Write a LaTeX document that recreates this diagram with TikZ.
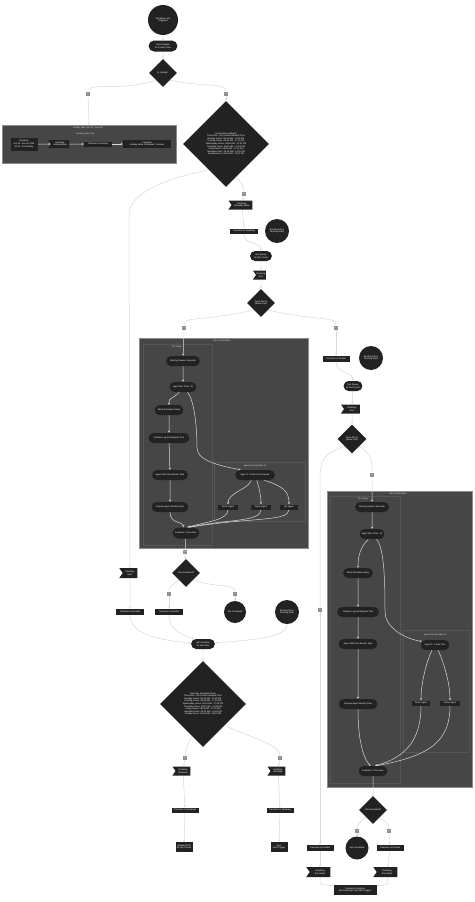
\documentclass[tikz,border=0pt]{standalone}
\usepackage{fontspec}
\setmainfont{Liberation Sans}
\usetikzlibrary{shapes.geometric,shapes.misc,shapes.symbols,arrows.meta,calc}
\definecolor{nodebg}{HTML}{222222}
\definecolor{sgbg}{HTML}{464646}
\definecolor{sgline}{HTML}{8C8C8C}
\definecolor{sgin}{HTML}{555555}
\definecolor{edgec}{HTML}{D8D8D8}
\definecolor{lblc}{HTML}{8F8F8F}
\newcommand\tf{\fontsize{2.2}{2.6}\selectfont}
\newcommand\lf{\fontsize{1.3}{1.5}\selectfont}
\pgfdeclarelayer{bg}
\pgfdeclarelayer{edges}
\pgfsetlayers{bg,edges,main}
\tikzset{
  nd/.style={fill=nodebg, text=white, inner sep=0.6pt, font=\tf, align=center},
  circ/.style={nd, circle, minimum size=#1}, circ/.default=24,
  stad/.style={nd, rounded rectangle, minimum height=10, minimum width=#1}, stad/.default=30,
  boxn/.style={nd, rectangle, minimum height=6, minimum width=#1}, boxn/.default=28,
  flagn/.style={nd, signal, signal from=west, signal to=nowhere, signal pointer angle=110, minimum height=9, minimum width=#1}, flagn/.default=20,
  dia/.style={nd, diamond, aspect=1, minimum width=#1, minimum height=#1, inner sep=0pt}, dia/.default=28,
  lbl/.style={fill=lblc, minimum size=4.4, inner sep=0pt, text=white, font=\lf},
  sg/.style={fill=sgbg, draw=sgline, line width=0.4pt, inner sep=0pt},
  sgi/.style={draw=sgin, line width=0.3pt},
  sgt/.style={text=white!85!black, font=\tf, inner sep=0pt},
  ln/.style={draw=edgec, line width=0.5pt},
  ed/.style={ln, -{Stealth[length=2.2pt,width=2pt]}}
}
\begin{document}
\begin{tikzpicture}[x=1pt,y=-1pt]
\useasboundingbox (0,0) rectangle (474,902);

% ---------- subgraph frames ----------
\begin{pgfonlayer}{bg}
\fill[white] (0,0) rectangle (474,902);
\node[sg, minimum width=174, minimum height=38] (SA) at (89,144) {};
\node[sg, minimum width=169, minimum height=210] (LA) at (223.5,443) {};
\node[sg, minimum width=145, minimum height=296] (RB) at (399.5,639) {};
\draw[sgi] (143,344) rectangle (212,545);
\draw[sgi] (214,462) rectangle (305,521);
\draw[sgi] (330,496) rectangle (400,783);
\draw[sgi] (403,630) rectangle (469,752);
\end{pgfonlayer}

\node[sgt] (tSA1) at (88,128) {Holiday Sale (25 Oct - Nov 30)};
\node[sgt] (tSA2) at (85,134) {Holiday Mode Sub};
\node[sgt] (tLA) at (222,341) {Job Orchestration};
\node[sgt] (tLA2) at (177,347) {CLI Setup};
\node[sgt] (tLA3) at (255,466) {agents-fan-out (Max 3)};
\node[sgt] (tRB) at (398,494) {Job Orchestration};
\node[sgt] (tRB2) at (363,499) {CLI Setup};
\node[sgt] (tRB3) at (435,635) {agents-fan-out (Max 2)};

% ---------- top ----------
\node[circ=30] (s0) at (163,20) {Scheduler Job\\Triggered};
\node[stad=30, minimum height=11] (s1) at (163,46) {Get Schedule\\for Current Time};
\node[dia=28] (d0) at (163,73) {Is Holiday?};
\node[lbl] (l1) at (88,94) {Yes};
\node[lbl] (l2) at (226,94) {No};

% holiday subgraph
\node[boxn=27, minimum height=13] (a1) at (24,144) {Schedule:\\Oct 25 - Nov 30 2024\\00:00 - 23:59 Daily};
\node[flagn=21, minimum height=8] (a2) at (60,144) {Enabling\\Holiday Mode};
\node[boxn=28, minimum height=5] (a3) at (98,144) {Transition to Holiday};
\node[boxn=48, minimum height=8] (a4) at (147,144) {Complete\\Holiday Mode Scheduled: Proceed};

% big diamond 1
\node[dia=86] (d2) at (226,144) {};
\node[nd, fill=none] (d2t) at (d2) {Current Day of Week?\\Time Zone: US Central Standard Time\\Monday Hours: 08:00 AM - 17:00 PM\\Tuesday Hours: 08:00 AM - 17:00 PM\\Wednesday Hours: 08:00 AM - 17:00 PM\\Thursday Hours: 08:00 AM - 17:00 PM\\Friday Hours: 08:00 AM - 17:00 PM\\Saturday Hours: 09:00 AM - 13:00 PM\\Sunday Hours: 09:00 AM - 13:00 PM};

\node[lbl] (l3) at (244,194) {Yes};
\node[flagn=24] (bf) at (242,205) {Enabling\\Weekday Mode};
\node[boxn=28, minimum height=5] (bt) at (244,231) {Transition to Weekday};
\node[circ=24] (bc) at (277,231) {Existing Job in\\Running State};
\node[stad=23] (bs) at (261,256) {Get Queue\\for Run Count};
\node[flagn=13] (bf2) at (261,275) {Enabling\\Run};
\node[dia=28] (d4) at (261,303) {Open Slot in\\Queue Cap?};
\node[lbl] (l4) at (184,328) {Yes};
\node[lbl] (l5) at (336,328) {No};

% left orchestration
\node[stad=35] (b1) at (183,361) {Starting Session Recorder};
\node[stad=28] (b2) at (183,387) {Agent Run Timer: 3h};
\node[stad=30] (b3) at (169,410) {Mesh Scheduler Setup};
\node[stad=42] (b4) at (169,438) {Initialize Log and Register Tool};
\node[stad=37] (b5) at (170,475) {Agent SDK Run Monitor Task};
\node[stad=38] (b6) at (170,507) {Prepare Agent Routing Task};
\node[stad=41] (f1) at (255,475) {Agent 1..3 Task Turn Execute};
\node[boxn=20, minimum height=5] (r1) at (228,507) {Writer Agent};
\node[boxn=20, minimum height=5] (r2) at (261,507) {Tester Agent};
\node[boxn=18, minimum height=5] (r3) at (289,507) {QA Agent};
\node[stad=28, minimum height=11] (e1) at (186,533) {Evaluate: CI Success};
\node[lbl] (l14) at (185,552) {Done};

% right branch
\node[boxn=27] (c1) at (336,359) {Transition to Enable};
\node[circ=24] (c2) at (371,358) {Existing Job in\\Running State};
\node[stad=20] (c3) at (353,386) {Get Queue\\for Run Count};
\node[flagn=19] (c4) at (352,409) {Enabling\\Run};
\node[dia=29] (c5) at (352,439) {Open Slot in\\Queue Cap?};
\node[lbl] (l6) at (372,475) {Yes};
\node[lbl] (l7) at (320,610) {No};

% right orchestration
\node[stad=35] (g1) at (372,507) {Starting Session Recorder};
\node[stad=26] (g2) at (372,534) {Agent Run Timer: 2h};
\node[stad=31] (g3) at (358,573) {Mesh Scheduler Setup};
\node[stad=43] (g4) at (358,612) {Initialize Log and Register Tool};
\node[stad=40] (g5) at (358,644) {Agent SDK Run Monitor Task};
\node[stad=40] (g6) at (358,704) {Prepare Agent Routing Task};
\node[stad=30] (f2) at (435,645) {Agent 1..2 Task Turn};
\node[boxn=18, minimum height=5] (r4) at (421,703) {Writer Agent};
\node[boxn=20, minimum height=5] (r5) at (450,703) {Tester Agent};
\node[stad=30] (e2) at (373,771) {Evaluate: CI Success};

% bottom right
\node[dia=28] (h1) at (373,810) {Job Completed?};
\node[lbl] (l8) at (357,831) {Yes};
\node[lbl] (l9) at (389,831) {No};
\node[circ=23] (h2) at (357,848) {Job Completed};
\node[boxn=27] (h3) at (320,848) {Transition to Disable};
\node[boxn=27] (h4) at (390,848) {Transition to Disable};
\node[flagn=24, minimum height=10] (h5) at (320,872) {Disabling\\Run Mode};
\node[flagn=24, minimum height=10] (h6) at (387,872) {Disabling\\Run Mode};
\node[boxn=43, minimum height=10] (h7) at (355,890) {Schedule Complete\\Exit Scheduler Until Next Trigger};

% bottom left
\node[flagn=18, minimum height=10] (m1) at (130,573) {Enabling\\Next};
\node[boxn=28] (m2) at (130,612) {Transition to Disable};
\node[dia=28] (m3) at (186,573) {Job Completed?};
\node[lbl] (l10) at (169,594) {No};
\node[lbl] (l11) at (235,594) {Yes};
\node[boxn=28] (m4) at (169,612) {Transition to Enable};
\node[circ=22] (m5) at (235,612) {Job Completed};
\node[circ=24] (m6) at (287,612) {Existing Job in\\Running State};
\node[stad=25] (k1) at (203,644) {Get Schedule\\for Next Run};
\node[dia=86] (k2) at (203,704) {};
\node[nd, fill=none] (k2t) at (k2) {Next Day Schedule Check\\Time Zone: US Central Standard Time\\Monday Hours: 08:00 AM - 17:00 PM\\Tuesday Hours: 08:00 AM - 17:00 PM\\Wednesday Hours: 08:00 AM - 17:00 PM\\Thursday Hours: 08:00 AM - 17:00 PM\\Friday Hours: 08:00 AM - 17:00 PM\\Saturday Hours: 09:00 AM - 13:00 PM\\Sunday Hours: 09:00 AM - 13:00 PM};
\node[lbl] (l12) at (185,758) {Yes};
\node[lbl] (l13) at (280,758) {No};
\node[flagn=18] (n1) at (183,771) {Enabling\\Weekend};
\node[boxn=27, minimum height=5] (n2) at (185,810) {Transition to Weekend};
\node[boxn=17, minimum height=10] (n3) at (184,847) {Weekend Off\\All Day Closed};
\node[flagn=18] (n4) at (278,771) {Enabling\\Weekday};
\node[boxn=27, minimum height=5] (n5) at (280,810) {Transition to Weekday};
\node[boxn=17, minimum height=10] (n6) at (279,847) {Run\\Next Trigger};

\coordinate (bendA) at (129,215);
\coordinate (bendB) at (320,480);
\coordinate (bendC) at (197,448);
\coordinate (bendD) at (385,612);

% ---------- connectors ----------
\begin{pgfonlayer}{edges}
\draw[ed] (s0) -- (s1);
\draw[ed] (s1) -- (d0);
\draw[ln] ($(d0.west)!0.5!(d0.south)$) .. controls +(-35,12) and +(0,-10) .. (l1.north);
\draw[ed] (l1) -- (SA.north);
\draw[ln] ($(d0.east)!0.5!(d0.south)$) .. controls +(35,8) and +(0,-10) .. (l2.north);
\draw[ed] (l2) -- (d2.north);
\draw[ed] (a1) -- (a2);
\draw[ed] (a2) -- (a3);
\draw[ed] (a3) -- (a4);

\draw[ln] ($(d2.east)!0.75!(d2.south)$) .. controls +(4,7) and +(0,-6) .. (l3.north);
\draw[ed] (l3) -- (bf);
\draw[ed] (bf) -- (bt);
\draw[ed] (bt.south) .. controls +(0,12) and +(0,-10) .. (bs.north);
\draw[ed] (bs) -- (bf2);
\draw[ed] (bf2) -- (d4);
\draw[ed] ($(d2.west)!0.6!(d2.south)$) .. controls +(-50,10) and +(0,-20) .. (bendA) -- (m1);

\draw[ln] ($(d4.west)!0.5!(d4.south)$) .. controls +(-55,12) and +(0,-10) .. (l4.north);
\draw[ed] (l4) -- (b1);
\draw[ln] ($(d4.east)!0.5!(d4.south)$) .. controls +(55,12) and +(0,-10) .. (l5.north);
\draw[ed] (l5) -- (c1);
\draw[ed] (c1.south) .. controls +(0,12) and +(0,-10) .. (c3.north);
\draw[ed] (c3) -- (c4);
\draw[ed] (c4) -- (c5);
\draw[ln] ($(c5.east)!0.5!(c5.south)$) .. controls +(12,8) and +(0,-15) .. (l6.north);
\draw[ed] (l6) -- (g1);
\draw[ln] ($(c5.west)!0.5!(c5.south)$) .. controls +(-22,8) and +(0,-20) .. (bendB) -- (l7.north);
\draw[ed] (l7) -- (h3);

% left orchestration
\draw[ed] (b1) -- (b2);
\draw[ed] (b2.235) .. controls +(-8,8) and +(0,-8) .. (b3.north);
\draw[ed] (b2.-50) .. controls +(6,6) and +(0,-25) .. (bendC) .. controls +(0,14) and +(-15,-3) .. (f1.160);
\draw[ed] (b3) -- (b4);
\draw[ed] (b4) -- (b5);
\draw[ed] (b5) -- (b6);
\draw[ed] (b6.south) .. controls +(0,12) and +(0,-6) .. (e1.115);
\draw[ed] (f1.235) .. controls +(-4,10) and +(0,-12) .. (r1.north);
\draw[ed] (f1.290) .. controls +(2,8) and +(0,-10) .. (r2.north);
\draw[ed] (f1.330) .. controls +(18,6) and +(0,-14) .. (r3.north);
\draw[ed] (r1.south) .. controls +(0,10) and +(22,-6) .. (e1.80);
\draw[ed] (r2.south) .. controls +(0,12) and +(40,-8) .. (e1.70);
\draw[ed] (r3.south) .. controls +(0,12) and +(60,-10) .. (e1.60);
\draw[ln] (e1) -- (l14);
\draw[ed] (l14) -- (m3);

% right orchestration
\draw[ed] (g1) -- (g2);
\draw[ed] (g2.235) .. controls +(-8,8) and +(0,-12) .. (g3.north);
\draw[ed] (g2.-50) .. controls +(8,8) and +(0,-30) .. (bendD) .. controls +(0,15) and +(-18,-3) .. (f2.165);
\draw[ed] (g3) -- (g4);
\draw[ed] (g4) -- (g5);
\draw[ed] (g5) -- (g6);
\draw[ed] (g6.south) .. controls +(0,35) and +(-6,-6) .. (e2.115);
\draw[ed] (f2.240) .. controls +(-5,10) and +(0,-18) .. (r4.north);
\draw[ed] (f2.300) .. controls +(5,10) and +(0,-18) .. (r5.north);
\draw[ed] (r4.south) .. controls +(0,35) and +(30,-8) .. (e2.70);
\draw[ed] (r5.south) .. controls +(0,35) and +(55,-10) .. (e2.60);
\draw[ed] (e2) -- (h1);

% bottom right
\draw[ln] ($(h1.west)!0.5!(h1.south)$) .. controls +(-5,5) and +(0,-5) .. (l8.north);
\draw[ed] (l8) -- (h2);
\draw[ln] ($(h1.east)!0.5!(h1.south)$) .. controls +(5,5) and +(0,-5) .. (l9.north);
\draw[ed] (l9) -- (h4);
\draw[ed] (h3) -- (h5);
\draw[ed] (h4) -- (h6);
\draw[ed] (h5.south) .. controls +(0,10) and +(-14,-3) .. (h7.170);
\draw[ed] (h6.south) .. controls +(0,10) and +(14,-3) .. (h7.10);

% bottom left
\draw[ln] ($(m3.west)!0.5!(m3.south)$) .. controls +(-8,6) and +(0,-6) .. (l10.north);
\draw[ed] (l10) -- (m4);
\draw[ln] ($(m3.east)!0.5!(m3.south)$) .. controls +(25,8) and +(0,-8) .. (l11.north);
\draw[ed] (l11) -- (m5);
\draw[ed] (m1) -- (m2);
\draw[ed] (m2.south) .. controls +(0,18) and +(-35,-3) .. (k1.175);
\draw[ed] (m4.south) .. controls +(0,15) and +(-12,-4) .. (k1.150);
\draw[ed] (m6.south) .. controls +(0,14) and +(35,-3) .. (k1.5);
\draw[ed] (k1) -- (k2);
\draw[ln] ($(k2.west)!0.75!(k2.south)$) .. controls +(-5,8) and +(0,-5) .. (l12.north);
\draw[ed] (l12) -- (n1);
\draw[ed] (n1) -- (n2);
\draw[ed] (n2) -- (n3);
\draw[ln] ($(k2.east)!0.5!(k2.south)$) .. controls +(35,15) and +(0,-10) .. (l13.north);
\draw[ed] (l13) -- (n4);
\draw[ed] (n4) -- (n5);
\draw[ed] (n5) -- (n6);
\end{pgfonlayer}
\end{tikzpicture}
\end{document}
